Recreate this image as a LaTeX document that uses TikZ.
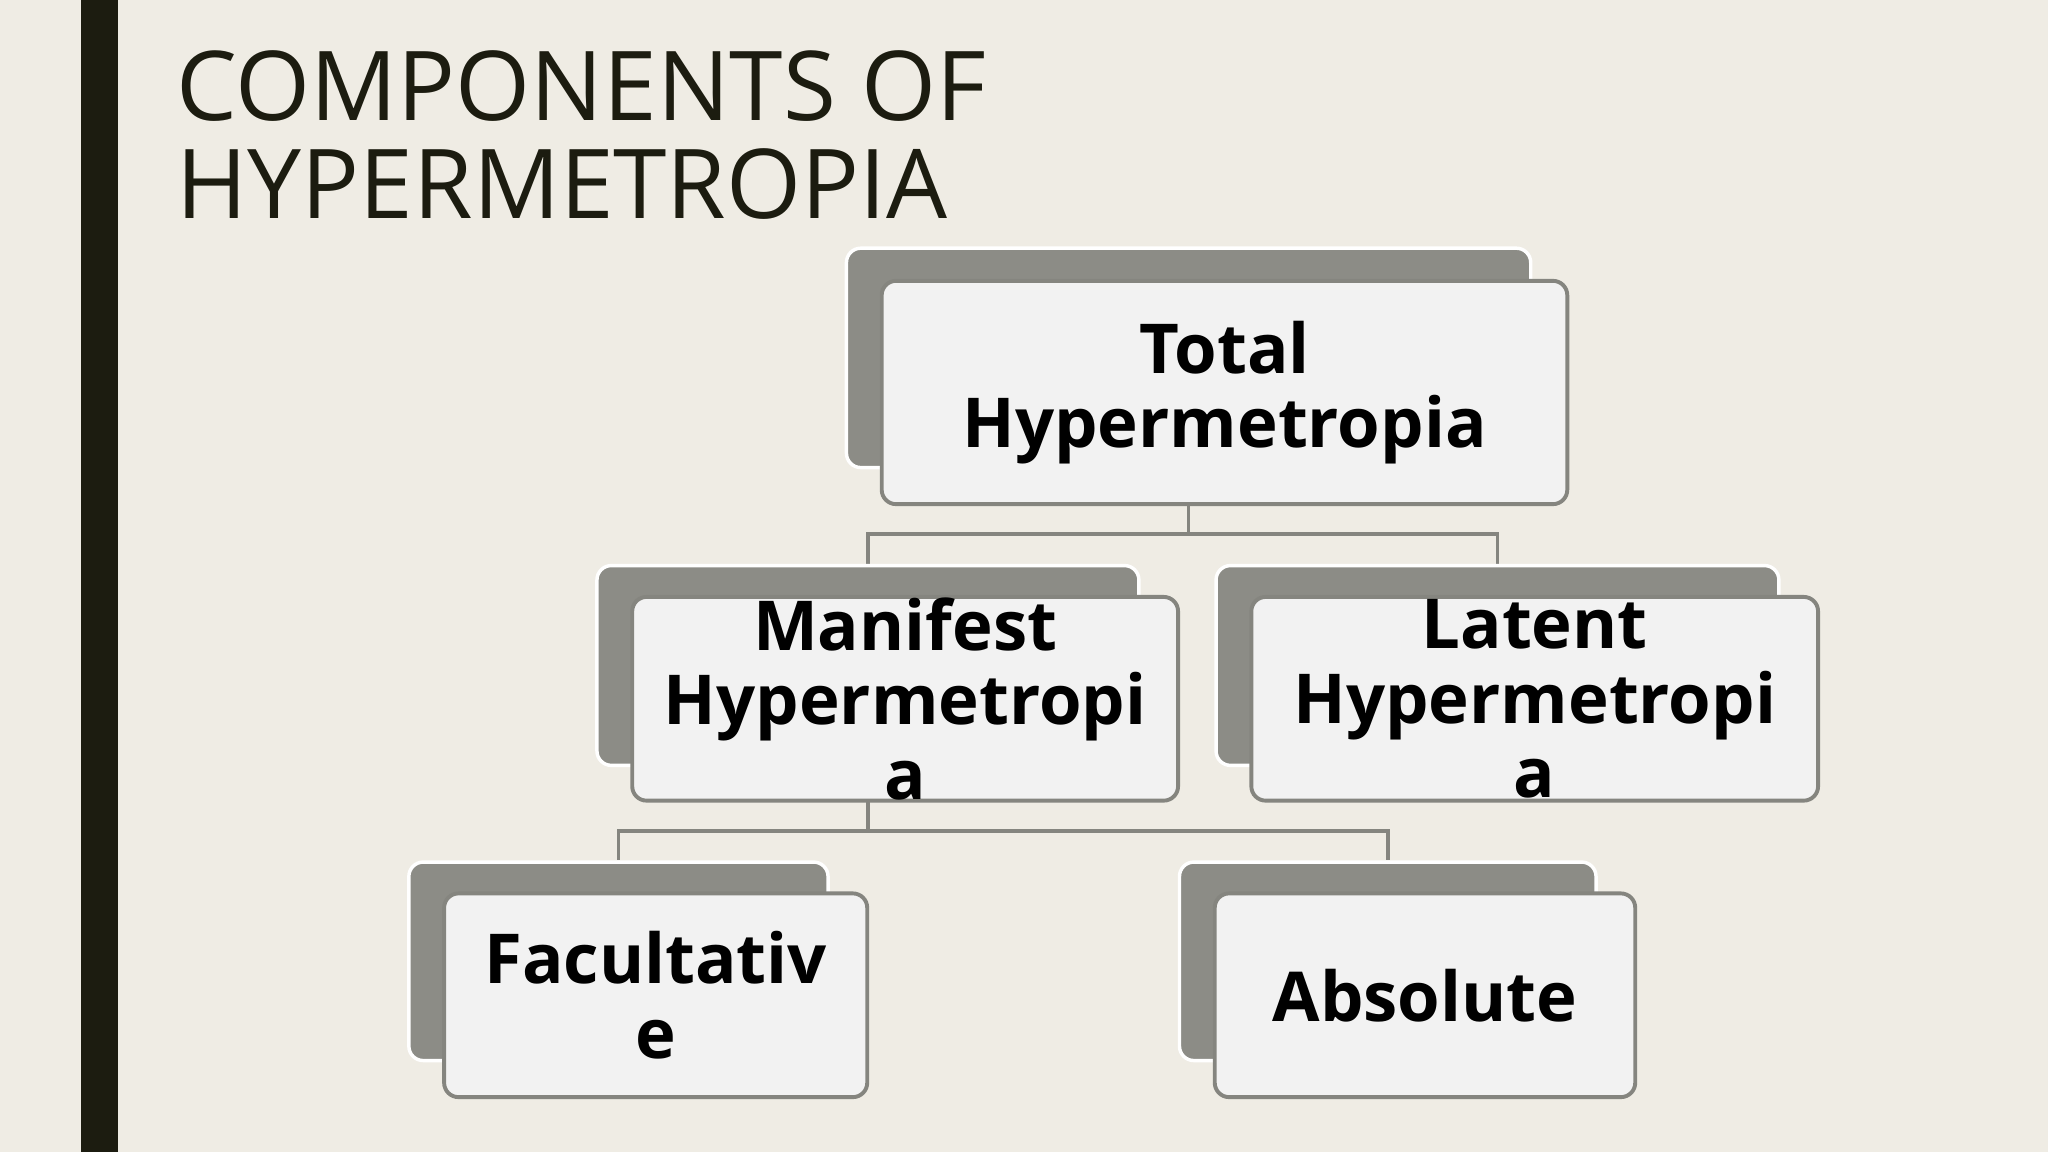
\documentclass[tikz,border=0pt]{standalone}
\usepackage{fontspec}
\setmainfont{Open Sans}
\usetikzlibrary{backgrounds}
\definecolor{bg}{HTML}{EFECE4}
\definecolor{barc}{HTML}{1C1C10}
\definecolor{backc}{HTML}{8C8C86}
\definecolor{frontc}{HTML}{F2F2F2}
\definecolor{linec}{HTML}{85857F}
\tikzset{
  backbox/.style={draw=white,line width=1.5pt,fill=backc,rounded corners=0.22cm,inner sep=0pt},
  frontbox/.style={draw=linec,line width=1.7pt,fill=frontc,rounded corners=0.22cm,inner sep=0pt,
     align=center,font=\bfseries\fontsize{30}{32.4}\selectfont,text=black},
  conn/.style={draw=linec,line width=1.6pt}
}
\begin{document}
\begin{tikzpicture}[x=0.02cm,y=-0.02cm]
\useasboundingbox (0,0) rectangle (1568,882);
\node[anchor=base west,align=left,inner sep=0pt,text=barc,font=\fontsize{42}{42.5}\selectfont] (title) at (135,167) {COMPONENTS OF\\HYPERMETROPIA};
% Total
\node[backbox,minimum width=10.48cm,minimum height=3.36cm] (tb) at (910,274) {};
\node[frontbox,minimum width=10.5cm,minimum height=3.42cm] (tf) at (937.5,300.5) {Total\\Hypermetropia};
% Manifest
\node[backbox,minimum width=8.3cm,minimum height=3.06cm] (mb) at (664.5,509.5) {};
\node[frontbox,minimum width=8.36cm,minimum height=3.12cm] (mf) at (693,535) {Manifest\\Hypermetropi\\a};
% Latent
\node[backbox,minimum width=8.62cm,minimum height=3.06cm] (lb) at (1146.5,509.5) {};
\node[frontbox,minimum width=8.68cm,minimum height=3.12cm] (lf) at (1175,535) {Latent\\Hypermetropi\\a};
% Facultative
\node[backbox,minimum width=6.42cm,minimum height=3.04cm] (fb) at (473.5,736) {};
\node[frontbox,minimum width=6.48cm,minimum height=3.12cm] (ff) at (502,762) {Facultativ\\e};
% Absolute
\node[backbox,minimum width=6.38cm,minimum height=3.04cm] (ab) at (1062.5,736) {};
\node[frontbox,minimum width=6.44cm,minimum height=3.12cm] (af) at (1091,762) {Absolute};
\coordinate (j1) at (910,409);
\coordinate (j2) at (664,636);
\begin{scope}[on background layer]
\fill[bg] (0,0) rectangle (1568,882);
\fill[barc] (62,0) rectangle (90,882);
\draw[conn] (tb.center) -- (tb.center|-j1) -| (mb.north);
\draw[conn] (tb.center|-j1) -| (lb.north);
\draw[conn] (mb.center) -- (mb.center|-j2) -| (fb.north);
\draw[conn] (mb.center|-j2) -| (ab.north);
\end{scope}
\end{tikzpicture}
\end{document}
